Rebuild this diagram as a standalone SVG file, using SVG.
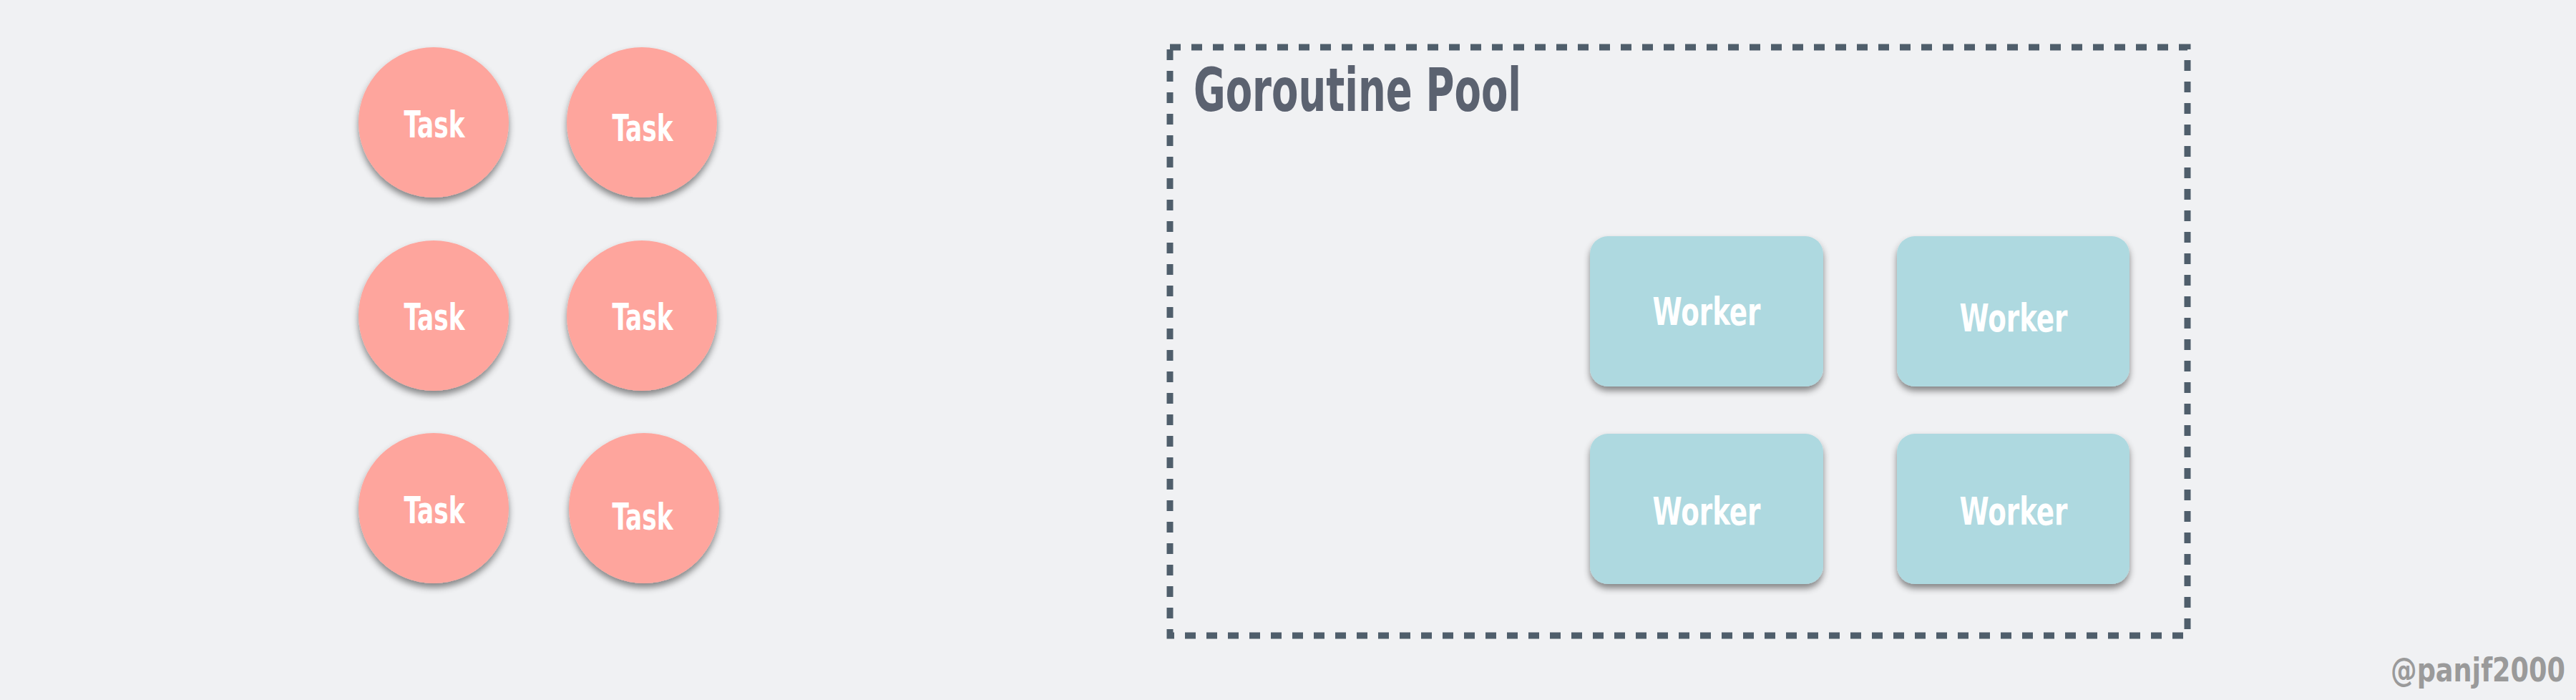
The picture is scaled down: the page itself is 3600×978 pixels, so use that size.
<svg xmlns="http://www.w3.org/2000/svg" width="3600" height="978" viewBox="0 0 3600 978">
  <defs>
    <filter id="shadow" x="-20%" y="-20%" width="140%" height="150%">
      <feDropShadow dx="0" dy="6" stdDeviation="5" flood-color="#000" flood-opacity="0.45"/>
    </filter>
  </defs>
  <style>
    .lbl { font-family: "Liberation Sans Narrow", "DejaVu Sans Condensed", "Liberation Sans", sans-serif; font-weight: bold; fill: #ffffff; text-anchor: middle; }
    .task { fill: #fea59d; filter: url(#shadow); }
    .worker { fill: #aed9e0; filter: url(#shadow); }
    .pool { fill: none; stroke: #4f5e6b; stroke-width: 9; stroke-dasharray: 15 15; }
    .title { font-family: "Liberation Sans Narrow", "DejaVu Sans Condensed", "Liberation Sans", sans-serif; font-weight: bold; fill: #5b6270; }
    .mark { font-family: "Liberation Sans Narrow", "DejaVu Sans Condensed", "Liberation Sans", sans-serif; font-weight: bold; fill: #9a9a9a; }
  </style>
  <rect x="0" y="0" width="3600" height="978" fill="#f0f1f3"/>

  <g id="goroutine-pool">
    <rect class="pool" x="1635" y="66" width="1422" height="822"/>
    <text class="title" x="1668" y="155" font-size="84" textLength="458" lengthAdjust="spacingAndGlyphs">Goroutine Pool</text>
  </g>

  <g id="task-1">
    <circle class="task" cx="606" cy="171" r="105"/>
    <text class="lbl" x="607" y="192" font-size="52" textLength="85" lengthAdjust="spacingAndGlyphs">Task</text>
  </g>
  <g id="task-2">
    <circle class="task" cx="897" cy="171" r="105"/>
    <text class="lbl" x="898" y="197" font-size="52" textLength="85" lengthAdjust="spacingAndGlyphs">Task</text>
  </g>
  <g id="task-3">
    <circle class="task" cx="606" cy="441" r="105"/>
    <text class="lbl" x="607" y="461" font-size="52" textLength="85" lengthAdjust="spacingAndGlyphs">Task</text>
  </g>
  <g id="task-4">
    <circle class="task" cx="897" cy="441" r="105"/>
    <text class="lbl" x="898" y="461" font-size="52" textLength="85" lengthAdjust="spacingAndGlyphs">Task</text>
  </g>
  <g id="task-5">
    <circle class="task" cx="606" cy="710" r="105"/>
    <text class="lbl" x="607" y="731" font-size="52" textLength="85" lengthAdjust="spacingAndGlyphs">Task</text>
  </g>
  <g id="task-6">
    <circle class="task" cx="900" cy="710" r="105"/>
    <text class="lbl" x="898" y="740" font-size="52" textLength="85" lengthAdjust="spacingAndGlyphs">Task</text>
  </g>

  <g id="worker-1">
    <rect class="worker" x="2222" y="330" width="326" height="210" rx="25" ry="25"/>
    <text class="lbl" x="2385" y="454" font-size="54" textLength="151" lengthAdjust="spacingAndGlyphs">Worker</text>
  </g>
  <g id="worker-2">
    <rect class="worker" x="2651" y="330" width="325" height="210" rx="25" ry="25"/>
    <text class="lbl" x="2814" y="463" font-size="54" textLength="151" lengthAdjust="spacingAndGlyphs">Worker</text>
  </g>
  <g id="worker-3">
    <rect class="worker" x="2222" y="606" width="326" height="210" rx="25" ry="25"/>
    <text class="lbl" x="2385" y="733" font-size="54" textLength="151" lengthAdjust="spacingAndGlyphs">Worker</text>
  </g>
  <g id="worker-4">
    <rect class="worker" x="2651" y="606" width="325" height="210" rx="25" ry="25"/>
    <text class="lbl" x="2814" y="733" font-size="54" textLength="151" lengthAdjust="spacingAndGlyphs">Worker</text>
  </g>

  <g id="connectors"/>

  <text class="mark" x="3341" y="952" font-size="46" text-anchor="start" textLength="244" lengthAdjust="spacingAndGlyphs">@panjf2000</text>
</svg>
